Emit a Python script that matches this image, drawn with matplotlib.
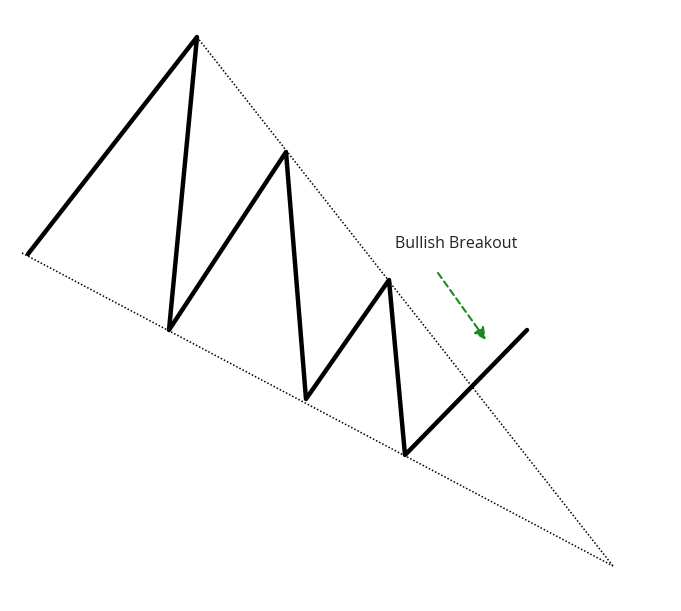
import matplotlib
matplotlib.use("Agg")
import matplotlib.pyplot as plt

# zigzag price swings (x = time, y = screen-style price, downward positive)
swing_x = [28, 197, 169, 286, 306, 389, 405, 527]
swing_y = [254, 37, 330, 152, 399, 280, 455, 330]

# trendlines
upper_x = [197, 613]
upper_y = [37, 566]
lower_x = [22, 613]
lower_y = [253, 566]

label = "Bullish Breakout"
arrow_from = (438, 273)
arrow_to = (486, 340)

fig = plt.figure(figsize=(6.81, 6.11), dpi=100)
ax = fig.add_axes([0, 0, 1, 1])
ax.set_xlim(0, 681)
ax.set_ylim(611, 0)
ax.axis("off")

ax.plot(upper_x, upper_y, color="black", lw=1.1, ls=(0, (1, 1.3)))
ax.plot(lower_x, lower_y, color="black", lw=1.1, ls=(0, (1, 1.3)))
ax.plot(swing_x, swing_y, color="black", lw=3.2, solid_joinstyle="round",
        solid_capstyle="round")

ax.text(395, 244, label, fontsize=11.5, family=["Open Sans", "DejaVu Sans"],
        color="#222222", va="center", ha="left")

ax.annotate("", xy=arrow_to, xytext=arrow_from,
            arrowprops=dict(arrowstyle="-|>,head_length=0.7,head_width=0.35",
                            color="#1a8a1a", lw=1.5, ls=(0, (3, 2)),
                            shrinkA=0, shrinkB=0))

fig.savefig("out.png", dpi=100)
